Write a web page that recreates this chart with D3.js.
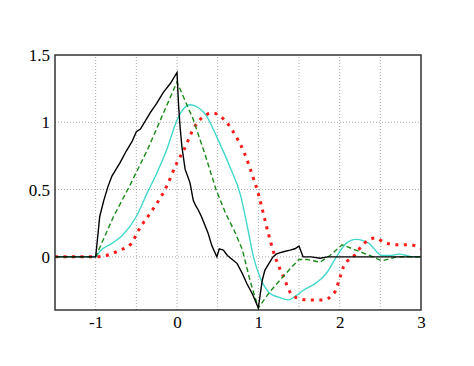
<!DOCTYPE html>
<html>
<head>
<meta charset="utf-8">
<script src="https://cdn.jsdelivr.net/npm/d3@7"></script>
<style>
body { margin: 0; background: #fff; }
</style>
</head>
<body>
<div class="container"></div>
<script>
const xTicks = [-1, 0, 1, 2, 3],
    yTicks = [0, 0.5, 1, 1.5],
    xGrid = [-1, -0.5, 0, 0.5, 1, 1.5, 2, 2.5],
    yGrid = [0, 0.5, 1];

// black solid
const blackSeries = [[-1.5,0],[-1,0],[-0.98,0.12],[-0.95,0.3],[-0.9,0.42],[-0.85,0.52],[-0.8,0.6],[-0.75,0.65],
    [-0.7,0.7],[-0.62,0.79],[-0.55,0.86],[-0.5,0.93],[-0.45,0.95],[-0.4,1.0],[-0.33,1.07],[-0.25,1.14],
    [-0.17,1.22],[-0.08,1.29],[0,1.37],[0.02,1.12],[0.04,0.95],[0.06,0.82],[0.1,0.65],[0.13,0.6],[0.16,0.55],
    [0.2,0.42],[0.23,0.38],[0.26,0.35],[0.3,0.3],[0.34,0.24],[0.38,0.18],[0.43,0.08],[0.49,0],[0.52,0.06],
    [0.57,0.05],[0.62,0.01],[0.68,-0.02],[0.74,-0.05],[0.8,-0.12],[0.86,-0.2],[0.93,-0.28],[1,-0.38],
    [1.03,-0.25],[1.05,-0.17],[1.08,-0.1],[1.12,-0.06],[1.18,0],[1.22,0.02],[1.26,0.03],[1.32,0.04],
    [1.39,0.05],[1.45,0.06],[1.5,0.08],[1.55,0],[1.65,0],[1.76,-0.01],[1.85,0],[3,0]];

// green dashed
const greenSeries = [[-1.5,0],[-1,0],[-0.78,0.3],[-0.58,0.53],[-0.36,0.8],[-0.18,1.05],[0,1.3],
    [0.2,1.02],[0.34,0.77],[0.48,0.5],[0.6,0.32],[0.7,0.2],[0.8,0.06],[0.9,-0.18],[1,-0.38],
    [1.14,-0.26],[1.3,-0.15],[1.42,-0.07],[1.5,-0.02],[1.6,-0.02],[1.76,-0.04],[1.88,0.01],[2.03,0.09],
    [2.2,0.05],[2.37,0.01],[2.52,-0.03],[2.7,0],[3,0]];

// cyan solid
const cyanSeries = [[-1.5,0],[-1,0],[-0.95,0.04],[-0.8,0.1],[-0.67,0.16],[-0.5,0.3],[-0.37,0.47],[-0.25,0.62],
    [-0.13,0.79],[0.01,1.03],[0.08,1.1],[0.16,1.13],[0.26,1.11],[0.36,1.05],[0.49,0.89],[0.65,0.67],
    [0.78,0.46],[0.86,0.24],[0.94,0],[1.02,-0.15],[1.14,-0.27],[1.25,-0.3],[1.37,-0.32],
    [1.46,-0.29],[1.55,-0.25],[1.72,-0.19],[1.84,-0.12],[1.96,0],[2.08,0.1],[2.2,0.13],[2.36,0.1],
    [2.52,0.01],[2.62,0.01],[2.73,0.02],[2.9,0],[3,0]];

// red dotted
const redSeries = [[-1.5,0],[-1,0],[-0.87,0.01],[-0.7,0.05],[-0.56,0.1],[-0.48,0.19],[-0.3,0.35],[-0.13,0.52],
    [0,0.7],[0.08,0.79],[0.22,0.97],[0.3,1.03],[0.44,1.07],[0.52,1.05],[0.61,1.0],[0.73,0.89],[0.83,0.77],
    [0.93,0.6],[1,0.47],[1.05,0.35],[1.12,0.18],[1.19,0.03],[1.31,-0.15],[1.41,-0.28],[1.5,-0.31],
    [1.6,-0.32],[1.8,-0.32],[1.9,-0.29],[1.95,-0.25],[2.0,-0.16],[2.05,-0.07],[2.18,0.01],[2.3,0.1],
    [2.44,0.14],[2.54,0.11],[2.7,0.09],[2.86,0.09],[3,0.06]];

const series = [
    {data: cyanSeries, color: "#40d8cc", width: 1.4, dash: null, curve: d3.curveMonotoneX},
    {data: redSeries, color: "#ff1a1a", width: 3, dash: "3 5.5", curve: d3.curveMonotoneX},
    {data: greenSeries, color: "#1a8a1a", width: 1.4, dash: "5 3", curve: d3.curveLinear},
    {data: blackSeries, color: "#000", width: 1.4, dash: null, curve: d3.curveLinear}
];

const width = 474, height = 366,
    margin = {top: 55, right: 53, bottom: 56, left: 55};

const svg = d3.select('.container')
    .append('svg')
    .attr('width', width)
    .attr('height', height);

const x = d3.scaleLinear().domain([-1.5, 3]).range([margin.left, width - margin.right]);
const y = d3.scaleLinear().domain([-0.395, 1.5]).range([height - margin.bottom, margin.top]);

// grid
svg.selectAll('.vgrid')
    .data(xGrid)
    .enter()
    .append('line')
    .attr('x1', d => x(d)).attr('x2', d => x(d))
    .attr('y1', y.range()[0]).attr('y2', y.range()[1])
    .attr('stroke', '#aaa').attr('stroke-width', 1).attr('stroke-dasharray', '1 2');

svg.selectAll('.hgrid')
    .data(yGrid)
    .enter()
    .append('line')
    .attr('x1', x.range()[0]).attr('x2', x.range()[1])
    .attr('y1', d => y(d)).attr('y2', d => y(d))
    .attr('stroke', '#aaa').attr('stroke-width', 1).attr('stroke-dasharray', '1 2');

svg.append('clipPath').attr('id', 'clip')
    .append('rect')
    .attr('x', margin.left).attr('y', margin.top)
    .attr('width', width - margin.left - margin.right)
    .attr('height', height - margin.top - margin.bottom);

const g = svg.append('g').attr('clip-path', 'url(#clip)');

series.forEach(s => {
    const line = d3.line()
        .x(d => x(d[0]))
        .y(d => y(d[1]))
        .curve(s.curve);
    g.append('path')
        .datum(s.data)
        .attr('d', line)
        .attr('fill', 'none')
        .attr('stroke', s.color)
        .attr('stroke-width', s.width)
        .attr('stroke-dasharray', s.dash);
});

// frame
svg.append('rect')
    .attr('x', margin.left).attr('y', margin.top)
    .attr('width', width - margin.left - margin.right)
    .attr('height', height - margin.top - margin.bottom)
    .attr('fill', 'none')
    .attr('stroke', '#333')
    .attr('stroke-width', 1.5);

const serif = '"Liberation Serif", "DejaVu Serif", serif';
const styleText = a => a.selectAll('text')
    .style('font-family', serif)
    .style('font-size', '17px')
    .style('fill', '#000');

svg.append('g')
    .attr('transform', `translate(0,${height - margin.bottom})`)
    .call(d3.axisBottom(x).tickValues(xTicks).tickSize(0).tickPadding(6).tickFormat(d => String(d)))
    .call(styleText)
    .call(a => a.select('.domain').remove());

svg.append('g')
    .attr('transform', `translate(${margin.left - 1},0)`)
    .call(d3.axisLeft(y).tickValues(yTicks).tickSize(0).tickPadding(4).tickFormat(d => String(d)))
    .call(styleText)
    .call(a => a.select('.domain').remove());
</script>
</body>
</html>
